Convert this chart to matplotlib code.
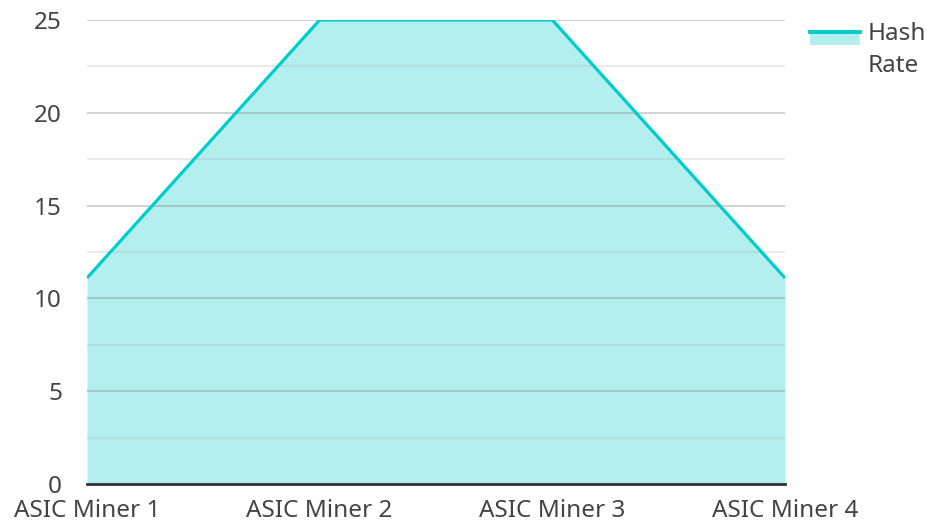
import matplotlib
matplotlib.use("Agg")
import matplotlib.pyplot as plt
from matplotlib.patches import Rectangle
from matplotlib.lines import Line2D
from matplotlib.legend_handler import HandlerBase

miners = ["ASIC Miner 1", "ASIC Miner 2", "ASIC Miner 3", "ASIC Miner 4"]
hash_rate = [11.1, 25, 25, 11.1]

lineColor = "#00cccc"
fillColor = "#b2efee"
textColor = "#444444"
fs = 17.5

plt.rcParams["font.family"] = ["Noto Sans", "DejaVu Sans"]


class HandlerArea(HandlerBase):
    # filled box with the line on its top edge, aligned with the first text line
    def create_artists(self, legend, orig_handle, xdescent, ydescent,
                       width, height, fontsize, trans):
        x0 = -xdescent
        top = -ydescent + height
        h = 0.6 * fontsize
        r = Rectangle((x0, top - h), width, h, facecolor=fillColor,
                      edgecolor="none", transform=trans)
        l = Line2D([x0, x0 + width], [top - 1.2, top - 1.2], color=lineColor,
                   lw=2.8, transform=trans)
        return [r, l]


fig = plt.figure(figsize=(9.28, 5.24), dpi=100)
ax = fig.add_axes([87 / 928, 40 / 524, (785 - 87) / 928, 464 / 524])

x = range(len(miners))
ax.fill_between(x, hash_rate, 0, color=fillColor, lw=0, zorder=1)
ax.plot(x, hash_rate, color=lineColor, lw=2.3, zorder=3, solid_capstyle="butt")

ax.set_xlim(0, len(miners) - 1)
ax.set_ylim(0, 25)
ax.set_yticks([0, 5, 10, 15, 20, 25])
ax.set_yticks([2.5, 7.5, 12.5, 17.5, 22.5], minor=True)
ax.grid(which="major", axis="y", color="#8a8a8a", alpha=0.45, lw=1.2, zorder=2)
ax.grid(which="minor", axis="y", color="#b0b0b0", alpha=0.3, lw=1.2, zorder=2)
ax.set_axisbelow(False)

ax.set_xticks(list(x))
ax.set_xticklabels(miners)

for s in ["top", "right", "left"]:
    ax.spines[s].set_visible(False)
ax.spines["bottom"].set_color("#333333")
ax.spines["bottom"].set_linewidth(2)
ax.spines["bottom"].set_zorder(4)

ax.tick_params(axis="both", which="both", length=0, labelsize=fs, colors=textColor)
ax.tick_params(axis="y", pad=18)
ax.tick_params(axis="x", pad=11)

handle = Rectangle((0, 0), 1, 1)
leg = fig.legend([handle], ["Hash\nRate"], handler_map={Rectangle: HandlerArea()},
                 loc="upper left", bbox_to_anchor=(810 / 928, 1 - 22 / 524),
                 frameon=False, fontsize=fs, handlelength=2.05, handleheight=2.3,
                 handletextpad=0.33, borderpad=0, borderaxespad=0,
                 labelcolor=textColor)
leg.get_texts()[0].set_linespacing(1.45)

fig.savefig("out.png", dpi=100)
